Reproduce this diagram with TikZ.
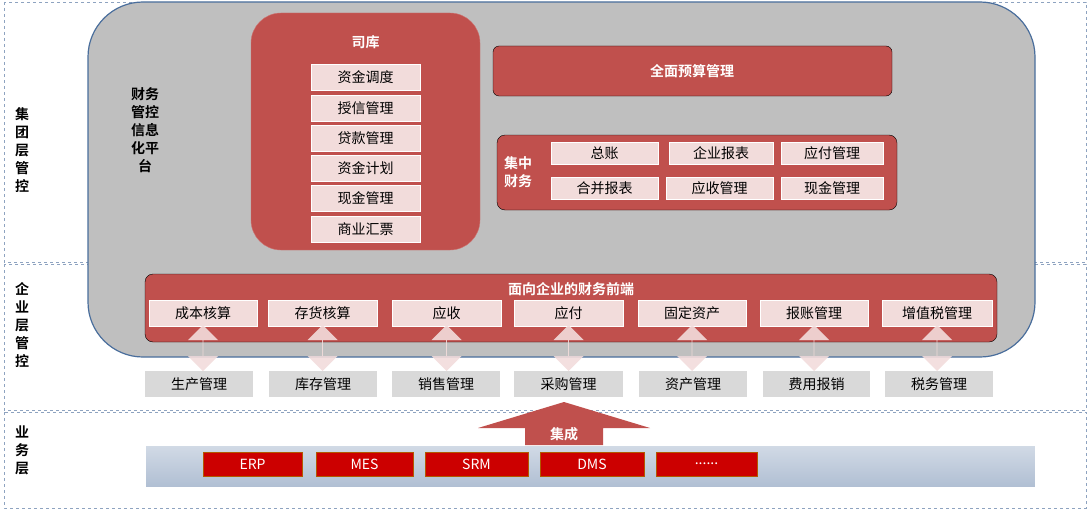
\documentclass[tikz,border=0pt]{standalone}
\usepackage{fontspec}
\setmainfont{Noto Sans CJK SC}
\newfontfamily\cjkb{Noto Sans CJK SC Bold}
\usetikzlibrary{arrows.meta,shapes.arrows}
\definecolor{rd}{HTML}{C0504D}
\definecolor{pk}{HTML}{F2DCDB}
\definecolor{gr}{HTML}{BFBFBF}
\definecolor{lg}{HTML}{D9D9D9}
\definecolor{bl}{HTML}{4A6E9C}
\definecolor{dl}{HTML}{8EA3C0}
\begin{document}
\begin{tikzpicture}[x=1pt,y=-1pt,
  item/.style={fill=pk,draw=white,line width=0.8pt,inner sep=0pt,font=\fontsize{14}{14}\selectfont},
  gitem/.style={fill=lg,inner sep=0pt,font=\fontsize{14}{14}\selectfont},
  ttl/.style={text=white,font=\cjkb\fontsize{14}{16}\selectfont,inner sep=0pt},
  lbl/.style={font=\cjkb\fontsize{14}{18}\selectfont,align=center,inner sep=0pt},
  btn/.style={fill=red!80!black,draw=orange!70!black,line width=0.8pt,text=white,inner sep=0pt,font=\fontsize{14}{14}\selectfont},
  band/.style={draw=dl,dashed,line width=0.6pt}]
\useasboundingbox (0,0) rectangle (1089,511);
% bands
\draw[band] (4,2) rectangle (1086,262);
\draw[band] (4,264) rectangle (1086,410);
\draw[band] (4,412) rectangle (1086,508);
% platform
\draw[fill=gr,draw=bl,line width=1.2pt,rounded corners=55pt] (88,2) rectangle (1035,357);
\node[lbl] (l1) at (22,150) {集\\团\\层\\管\\控};
\node[lbl] (l2) at (22,325) {企\\业\\层\\管\\控};
\node[lbl] (l3) at (22,450) {业\\务\\层};
\node[lbl] (plat) at (145,130) {财务\\管控\\信息\\化平\\台};
% siku
\draw[fill=rd,draw=rd!80!white,rounded corners=30pt] (251,13) rectangle (480,250);
\node[ttl] (siku) at (365.5,42) {司库};
\foreach \t/\a/\b [count=\i] in {资金调度/64/90,授信管理/95/121,贷款管理/125/151,资金计划/155/181,现金管理/185/211,商业汇票/216/242}
  \node[item,minimum width=109pt,minimum height={\b-\a}] (s\i) at (365.5,{(\a+\b)/2}) {\t};
% budget
\draw[fill=rd,rounded corners=6pt] (493,46) rectangle (892,96);
\node[ttl] (bud) at (692,71) {全面预算管理};
% central finance
\draw[fill=rd,rounded corners=8pt] (497,135) rectangle (897,210);
\node[ttl,align=center,font=\cjkb\fontsize{14}{18}\selectfont] (jz) at (518,172) {集中\\财务};
\foreach \t/\a/\b/\y [count=\i] in {总账/551/658/153.5,企业报表/669/773/153.5,应付管理/781/883/153.5,合并报表/551/658/188,应收管理/666/773/188,现金管理/781/883/188}
  \node[item,minimum width={\b-\a},minimum height=22pt] (c\i) at ({(\a+\b)/2},\y) {\t};
% front end
\draw[fill=rd,rounded corners=8pt] (145,274) rectangle (997,342);
\node[ttl] (fe) at (571,289) {面向企业的财务前端};
\foreach \t/\a/\b/\g/\c/\d [count=\i] in {成本核算/149/257/生产管理/145/253,存货核算/268/377/库存管理/269/377,应收/392/501/销售管理/392/500,应付/514/623/采购管理/514/623,固定资产/638/746/资产管理/639/747,报账管理/760/868/费用报销/763/870,增值税管理/882/992/税务管理/885/993}{
  \node[item,minimum width={\b-\a},minimum height=26pt] (f\i) at ({(\a+\b)/2},313) {\t};
  \node[gitem,minimum width={\d-\c},minimum height=26pt] (g\i) at ({(\c+\d)/2},384) {\g};
  \node[double arrow,fill=pk,opacity=0.9,rotate=90,minimum height=46pt,minimum width=30pt,double arrow head extend=8pt,inner sep=0pt] (da\i) at ({(\a+\b)/2},348) {};
}
% bottom bar
\shade[top color=dl!40!white,bottom color=dl!70!white,draw=white] (145,445) rectangle (1035,487);
\fill[rd] (478,428) -- (564,402) -- (650,428) -- (603,428) -- (603,445) -- (525,445) -- (525,428) -- cycle;
\node[ttl] (jc) at (564,434) {集成};
\foreach \t/\a/\b [count=\i] in {ERP/203/302,MES/316/413,SRM/425/528,DMS/540/644,{......}/656/757}
  \node[btn,minimum width={\b-\a},minimum height=24pt] (b\i) at ({(\a+\b)/2},464) {\t};
\end{tikzpicture}
\end{document}
